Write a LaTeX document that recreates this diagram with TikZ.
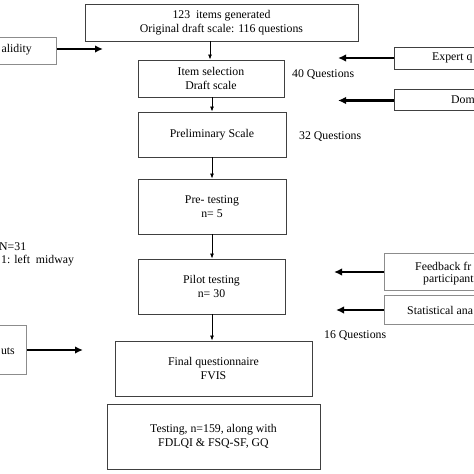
\documentclass[tikz,border=0pt]{standalone}
\usepackage{fontspec}
\setmainfont{Liberation Serif}
\usetikzlibrary{arrows.meta}
\tikzset{
  mainbox/.style={draw=black!75, line width=0.9pt, inner sep=2pt, align=center},
  sidebox/.style={draw=black!45, line width=0.9pt, inner sep=0pt},
  darkside/.style={draw=black!75, line width=0.9pt, inner sep=0pt},
  txt/.style={inner sep=0pt},
  down/.style={line width=0.8pt, -{Latex[length=5pt,width=4pt]}},
  side/.style={line width=2.4pt, -{Latex[length=8pt,width=7.5pt]}}
}
\begin{document}
\begin{tikzpicture}[x=1pt,y=-1pt, font=\fontsize{11.8}{14}\selectfont]
\useasboundingbox (0,0) rectangle (474,474);
\clip (0,0) rectangle (474,474);
% main column
\node[mainbox, minimum width=273, minimum height=37] (b1) at (221.5,22.5) {123\ \ items generated\\Original draft scale: 116 questions};
\node[mainbox, minimum width=146, minimum height=37] (b2) at (211,78.5) {Item selection\\Draft scale};
\node[mainbox, minimum width=148, minimum height=45] (b3) at (212,134.5) {Preliminary Scale};
\node[mainbox, minimum width=148, minimum height=55] (b4) at (212,206.5) {Pre- testing\\n= 5};
\node[mainbox, minimum width=147, minimum height=55] (b5) at (211.5,286.5) {Pilot testing\\n= 30};
\node[mainbox, minimum width=197, minimum height=55] (b6) at (213.5,368.5) {Final questionnaire\\FVIS};
\node[mainbox, minimum width=213, minimum height=65] (b7) at (213.5,436.5) {Testing, n=159, along with\\FDLQI \& FSQ-SF, GQ};
\draw[down] (b1.south -| 210,0) -- (b2.north -| 210,0);
\draw[down] (b2.south -| 212,0) -- (b3.north -| 212,0);
\draw[down] (b3.south -| 212,0) -- (b4.north -| 212,0);
\draw[down] (b4.south -| 212,0) -- (b5.north -| 212,0);
\draw[down] (b5.south -| 212,0) -- (b6.north -| 212,0);
% side labels
\node[txt, anchor=west] (q40) at (292,75) {40 Questions};
\node[txt, anchor=west] (q32) at (299,137) {32 Questions};
\node[txt, anchor=west] (q16) at (324,336) {16 Questions};
\node[txt, anchor=west] (n31) at (-1,247) {N=31};
\node[txt, anchor=west] (mid) at (1,261) {1: left\ \ midway};
% left boxes
\node[sidebox, minimum width=62, minimum height=27, anchor=east] (lv) at (57,50.5) {};
\node[txt, anchor=east] (lvt) at (32,50) {alidity};
\coordinate (lvtip) at (103,49);
\draw[side] (lv.east |- lvtip) -- (lvtip);
\node[sidebox, minimum width=40, minimum height=49, anchor=east] (lu) at (27,349.5) {};
\node[txt, anchor=east] (lut) at (15,351) {uts};
\coordinate (lutip) at (83,350);
\draw[side] (lu.east |- lutip) -- (lutip);
% right boxes
\node[darkside, minimum width=90, minimum height=22, anchor=west] (re) at (394,58) {};
\node[txt, anchor=west] (ret) at (432,58) {Expert q};
\coordinate (retip) at (338,58);
\draw[side] (re.west) -- (retip);
\node[darkside, minimum width=90, minimum height=21, anchor=west] (rd) at (394,99.5) {};
\node[txt, anchor=west] (rdt) at (451,100) {Dom};
\coordinate (rdtip) at (338,100.5);
\draw[side] (re.west |- rdtip) -- (rdtip);
\node[sidebox, minimum width=100, minimum height=37, anchor=west] (rf) at (384,271.5) {};
\node[txt, anchor=west] (rft1) at (415,266) {Feedback fr};
\node[txt, anchor=west] (rft2) at (423,280) {participant};
\coordinate (rftip) at (334,272);
\draw[side] (rf.west |- rftip) -- (rftip);
\node[sidebox, minimum width=100, minimum height=29, anchor=west] (rs) at (384,309.5) {};
\node[txt, anchor=west] (rst) at (407,310) {Statistical ana};
\coordinate (rstip) at (336,310);
\draw[side] (rs.west |- rstip) -- (rstip);
\end{tikzpicture}
\end{document}
